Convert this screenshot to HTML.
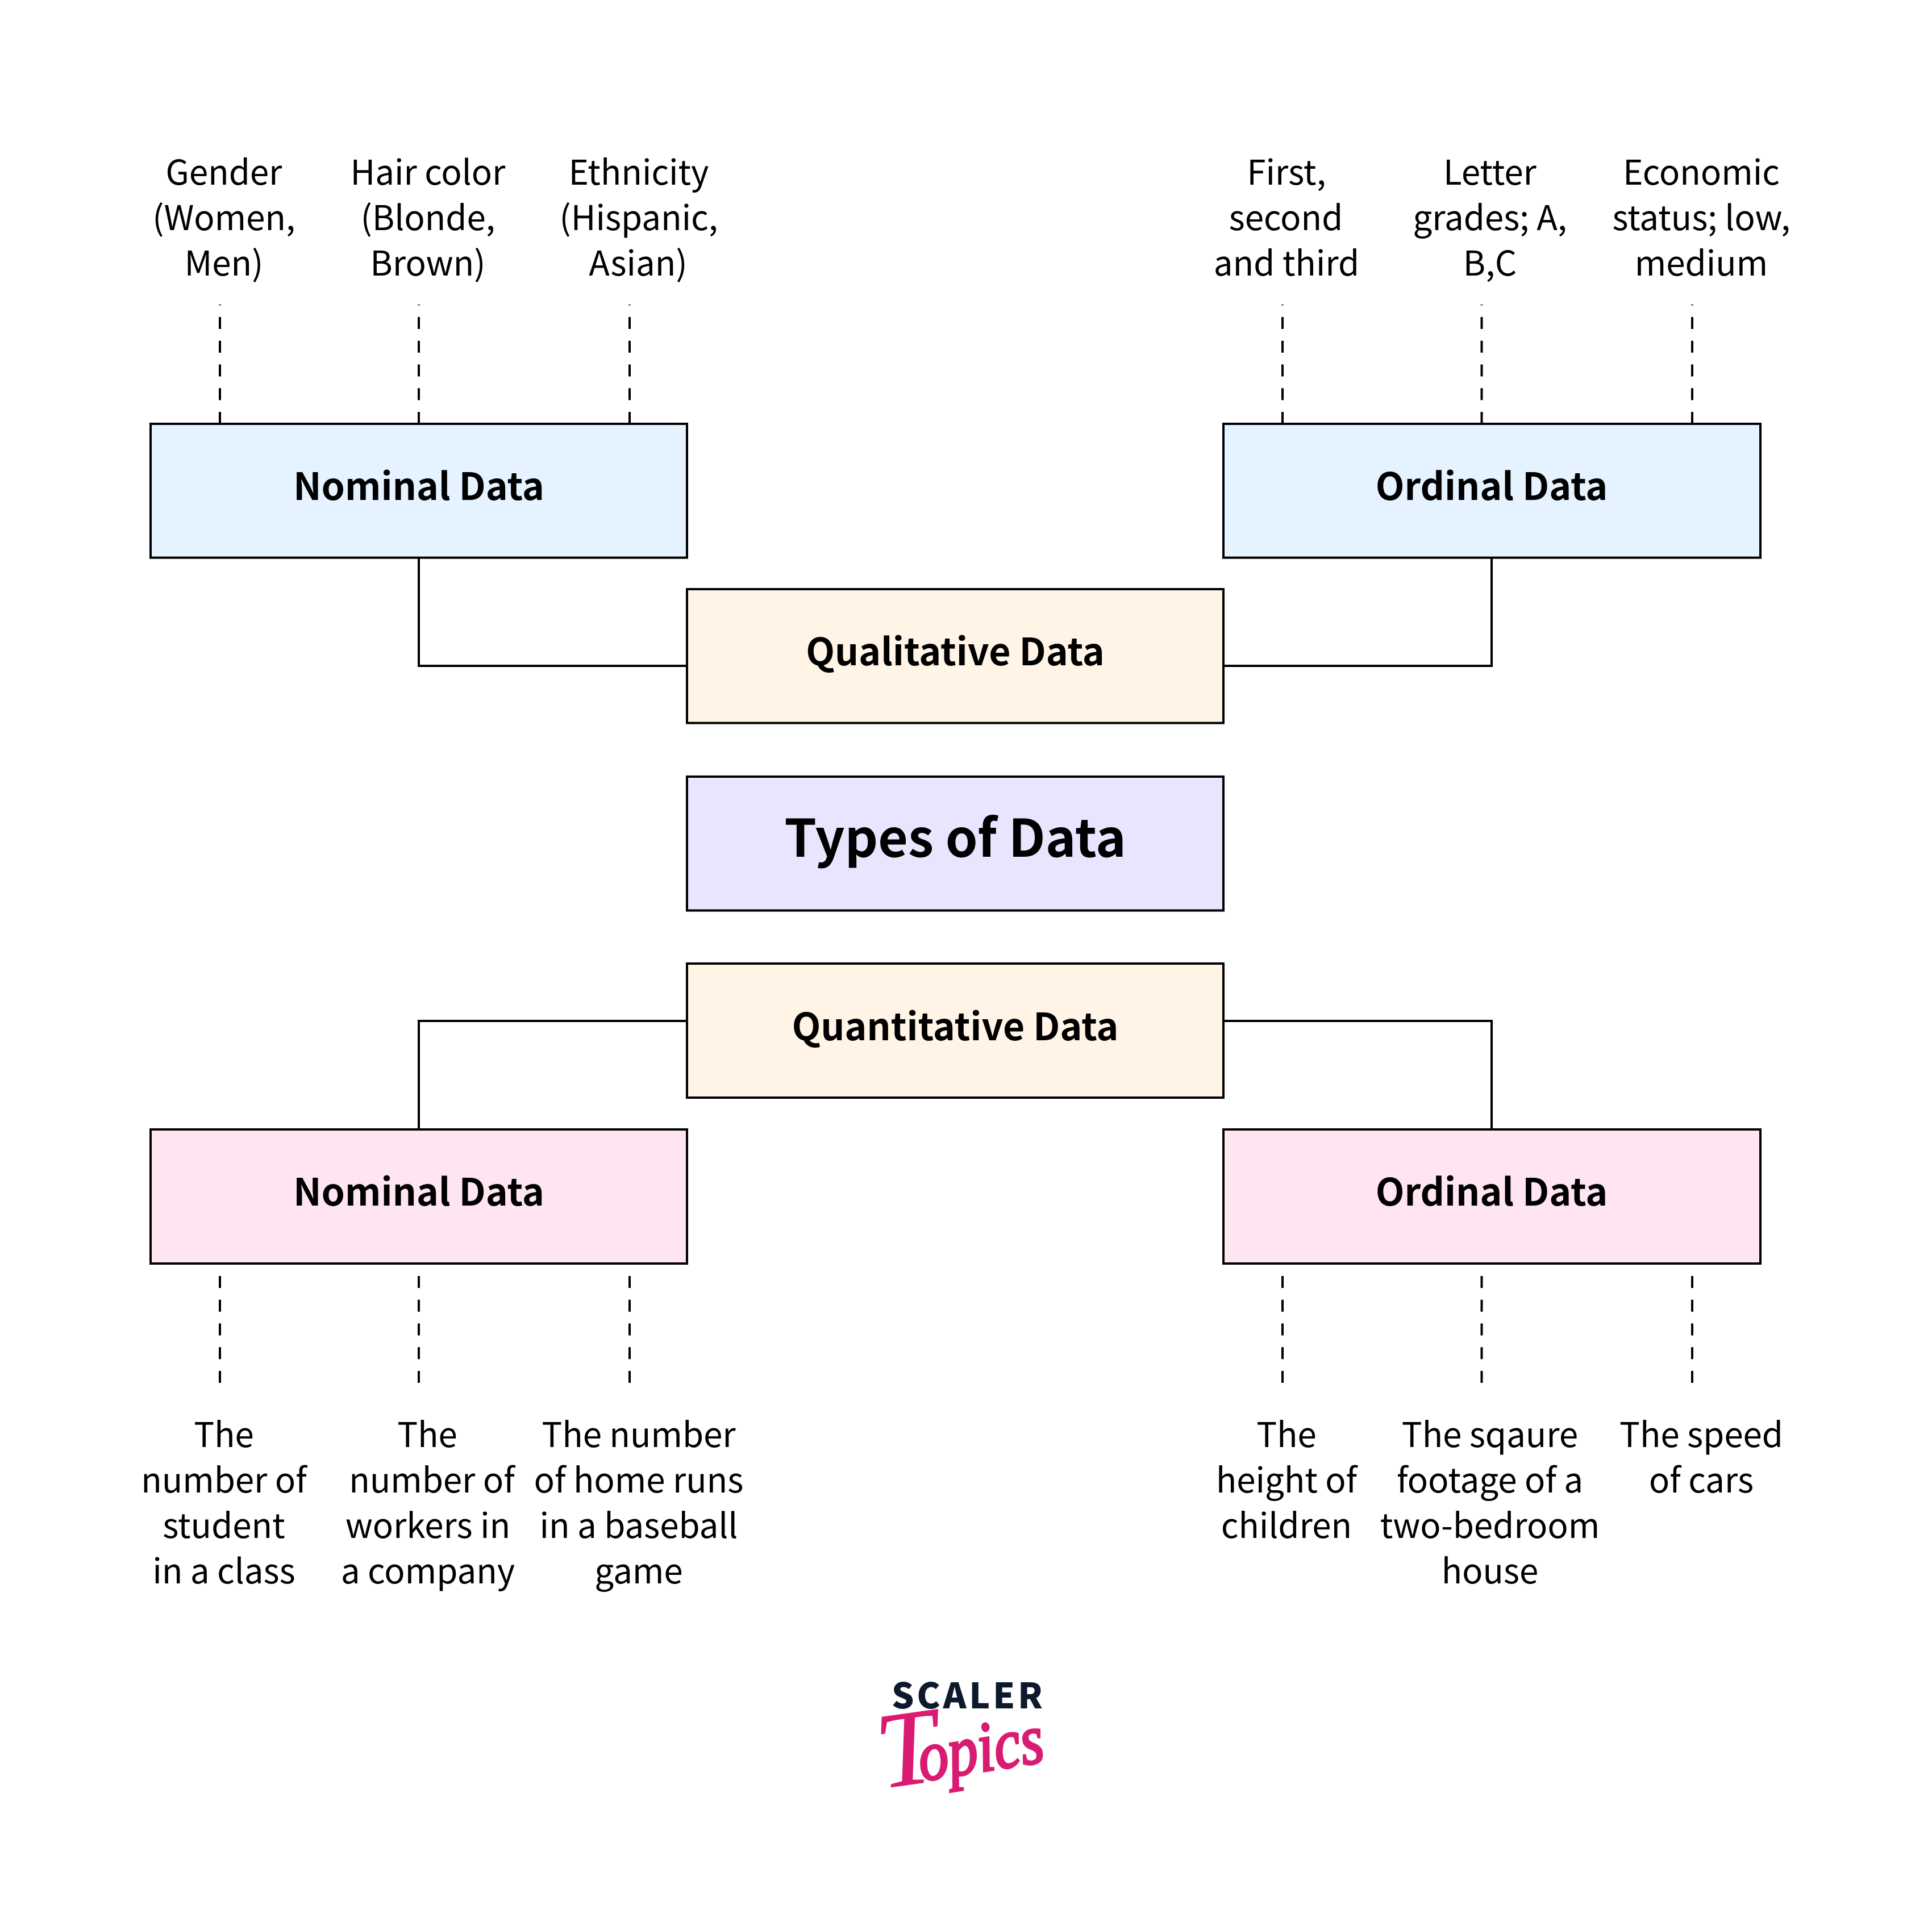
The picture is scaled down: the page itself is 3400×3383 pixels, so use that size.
<!DOCTYPE html>
<html><head><meta charset="utf-8"><style>
html,body{margin:0;padding:0;background:#fff}
svg{display:block}
text{font-family:"Noto Sans CJK JP","Liberation Sans",sans-serif;text-anchor:middle;fill:#000}
.t{font-size:60px;font-weight:400}
.b{font-size:66px;font-weight:700}
.box{stroke:#000;stroke-width:4}
.ln{stroke:#000;stroke-width:4;fill:none}
.d{stroke:#000;stroke-width:4;stroke-dasharray:21 20.75;fill:none}
.s{text-anchor:start;font-family:'Liberation Serif',serif;font-style:italic;fill:#D91B72;stroke:#D91B72}
</style></head><body>
<svg xmlns="http://www.w3.org/2000/svg" width="3400" height="3383" viewBox="0 0 3400 3383">
<rect width="3400" height="3383" fill="#fff"/>
<path class="ln" d="M737 981V1172H1209M2625 981V1172H2153M737 1988V1797H1209M2625 1988V1797H2153"/>
<path class="d" d="M387 746V536M737 746V536M1108 746V536M2257 746V536M2607.5 746V536M2978 746V536"/>
<path class="d" d="M387 2204.25V2435M737 2204.25V2435M1108 2204.25V2435M2257 2204.25V2435M2607.5 2204.25V2435M2978 2204.25V2435"/>
<rect class="box" x="265" y="746" width="944" height="235.6" fill="#E4F3FF"/>
<rect class="box" x="2153" y="746" width="945" height="235.6" fill="#E4F3FF"/>
<rect class="box" x="1209" y="1037" width="944" height="235.6" fill="#FFF4E6"/>
<rect class="box" x="1209" y="1367" width="944" height="235.6" fill="#E8E6FF"/>
<rect class="box" x="1209" y="1696" width="944" height="236" fill="#FFF4E6"/>
<rect class="box" x="265" y="1988" width="944" height="236" fill="#FFE5F2"/>
<rect class="box" x="2153" y="1988" width="945" height="236" fill="#FFE5F2"/>
<text class="b" x="737" y="880">Nominal Data</text>
<text class="b" x="2625" y="880">Ordinal Data</text>
<text class="b" x="1681" y="1171">Qualitative Data</text>
<text class="b" x="1681" y="1508" style="font-size:91px">Types of Data</text>
<text class="b" x="1681" y="1831">Quantitative Data</text>
<text class="b" x="737" y="2122">Nominal Data</text>
<text class="b" x="2625" y="2122">Ordinal Data</text>
<text class="t" x="394" y="325">Gender</text><text class="t" x="394" y="405">(Women,</text><text class="t" x="394" y="485">Men)</text>
<text class="t" x="753" y="325">Hair color</text><text class="t" x="753" y="405">(Blonde,</text><text class="t" x="753" y="485">Brown)</text>
<text class="t" x="1124" y="325">Ethnicity</text><text class="t" x="1124" y="405">(Hispanic,</text><text class="t" x="1123" y="485">Asian)</text>
<text class="t" x="2264" y="325">First,</text><text class="t" x="2263" y="405">second</text><text class="t" x="2264" y="485">and third</text>
<text class="t" x="2622" y="325">Letter</text><text class="t" x="2622" y="405">grades; A,</text><text class="t" x="2622" y="485">B,C</text>
<text class="t" x="2994" y="325">Economic</text><text class="t" x="2994" y="405">status; low,</text><text class="t" x="2994" y="485">medium</text>
<text class="t" x="394" y="2547">The</text><text class="t" x="394" y="2627">number of</text><text class="t" x="394" y="2707">student</text><text class="t" x="394" y="2787">in a class</text>
<text class="t" x="752" y="2547">The</text><text class="t" x="760" y="2627">number of</text><text class="t" x="753" y="2707">workers in</text><text class="t" x="753" y="2787">a company</text>
<text class="t" x="1124" y="2547">The number</text><text class="t" x="1124" y="2627">of home runs</text><text class="t" x="1124" y="2707">in a baseball</text><text class="t" x="1124" y="2787">game</text>
<text class="t" x="2264" y="2547">The</text><text class="t" x="2264" y="2627">height of</text><text class="t" x="2264" y="2707">children</text>
<text class="t" x="2622" y="2547">The sqaure</text><text class="t" x="2622" y="2627">footage of a</text><text class="t" x="2622" y="2707">two-bedroom</text><text class="t" x="2622" y="2787">house</text>
<text class="t" x="2994" y="2547">The speed</text><text class="t" x="2994" y="2627">of cars</text>
<text x="1702" y="3007" textLength="266" lengthAdjust="spacing" style="font-size:62px;font-weight:900;fill:#0D1A2D">SCALER</text>
<text class="s" transform="translate(1552 3148) rotate(-8)" style="font-size:190px;stroke-width:1">T</text>
<text class="s" transform="translate(1622 3135) rotate(-9)" textLength="222" lengthAdjust="spacingAndGlyphs" style="font-size:125px;stroke-width:4">opics</text>
</svg>
</body></html>
